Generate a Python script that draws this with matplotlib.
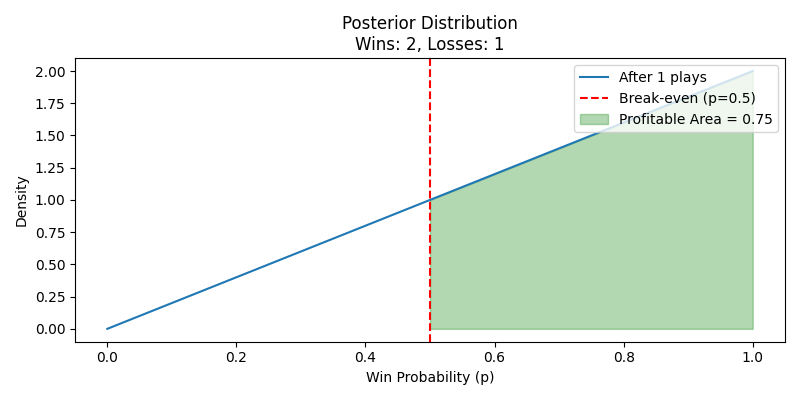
import matplotlib
matplotlib.use("Agg")
import matplotlib.pyplot as plt

# posterior density (straight line)
p_vals = [0.0, 0.5, 1.0]
density = [0.0, 1.0, 2.0]

# profitable region p >= 0.5
fill_p = [0.5, 1.0]
fill_density = [1.0, 2.0]

break_even = 0.5
profit_area = 0.75

fig, ax = plt.subplots(figsize=(8, 4), dpi=100)
ax.plot(p_vals, density, label="After 1 plays")
ax.axvline(break_even, color="red", linestyle="--", label=f"Break-even (p={break_even})")
ax.fill_between(fill_p, fill_density, color="green", alpha=0.3,
                label=f"Profitable Area = {profit_area:.2f}")

ax.set_title("Posterior Distribution\nWins: 2, Losses: 1")
ax.set_xlabel("Win Probability (p)")
ax.set_ylabel("Density")
ax.legend(loc="upper right")

fig.tight_layout()
fig.savefig("out.png")
